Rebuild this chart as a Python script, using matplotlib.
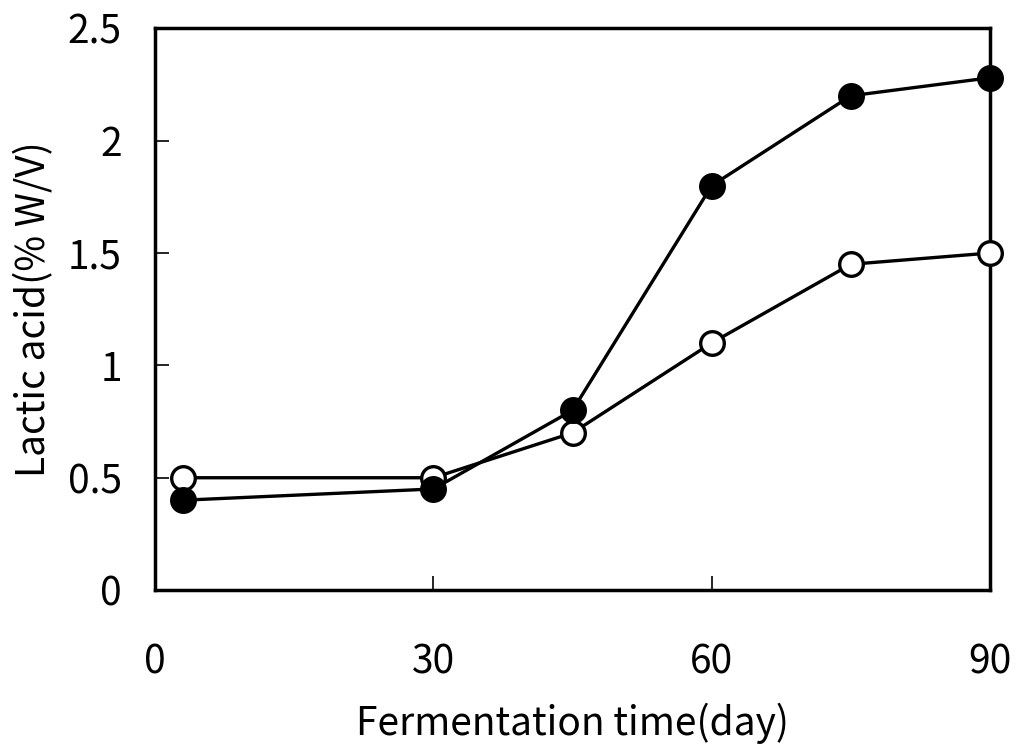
import matplotlib.pyplot as plt
import matplotlib as mpl

days = [3, 30, 45, 60, 75, 90]
lactic_filled = [0.40, 0.45, 0.80, 1.80, 2.20, 2.28]
lactic_open = [0.50, 0.50, 0.70, 1.10, 1.45, 1.50]
x_ticks = [0, 30, 60, 90]
y_ticks = [0, 0.5, 1, 1.5, 2, 2.5]
y_labels = ["0", "0.5", "1", "1.5", "2", "2.5"]

mpl.rcParams["font.family"] = ["Noto Sans CJK JP", "DejaVu Sans"]

fig = plt.figure(figsize=(10.28, 7.46), dpi=100)
ax = fig.add_axes([0.151, 0.209, 0.812, 0.753])

ax.plot(days, lactic_open, color="black", lw=2.4, marker="o", ms=17,
        mfc="white", mec="black", mew=2.4, clip_on=False, zorder=3)
ax.plot(days, lactic_filled, color="black", lw=2.4, marker="o", ms=17,
        mfc="black", mec="black", mew=2.4, clip_on=False, zorder=4)

ax.set_xlim(0, 90)
ax.set_ylim(0, 2.5)
ax.set_xticks(x_ticks)
ax.set_yticks(y_ticks)
ax.set_yticklabels(y_labels)
ax.tick_params(direction="in", length=10, width=1.2, labelsize=28)
ax.tick_params(axis="x", pad=38)
ax.tick_params(axis="y", pad=24)
for s in ax.spines.values():
    s.set_linewidth(2.5)

ax.set_xlabel("Fermentation time(day)", fontsize=28, labelpad=14)
ax.set_ylabel("Lactic acid(% W/V)", fontsize=28, labelpad=10)

fig.savefig("out.png", dpi=100, facecolor="white")
